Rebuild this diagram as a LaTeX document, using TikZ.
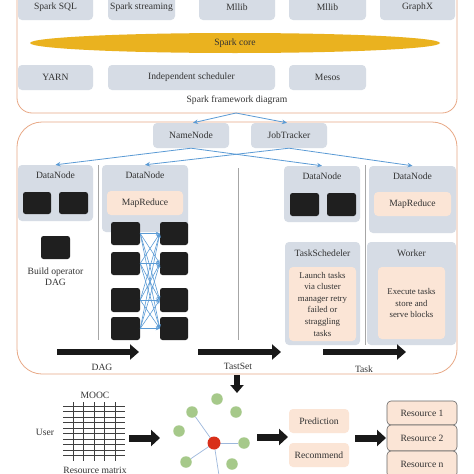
\documentclass[tikz,border=0pt]{standalone}
\usepackage{fontspec}
\setmainfont{Liberation Serif}
\usetikzlibrary{arrows.meta,shapes.geometric}
\definecolor{gb}{HTML}{D6DCE5}
\definecolor{pe}{HTML}{FBE5D6}
\definecolor{panel}{HTML}{E8A987}
\definecolor{core}{HTML}{EAB21F}
\definecolor{blu}{HTML}{5B9BD5}
\definecolor{txt}{HTML}{333333}
\definecolor{grn}{HTML}{A6C98A}
\definecolor{rd}{HTML}{D9301A}
\definecolor{edge}{HTML}{9DB8DC}
\tikzset{
  every node/.style={text=txt, font=\fontsize{9.6}{11}\selectfont},
  box/.style={inner sep=0pt, rounded corners=4pt, draw=none},
  graybox/.style={box, fill=gb},
  peachbox/.style={box, fill=pe},
  resbox/.style={box, fill=pe, draw=gray!80!black, line width=0.6pt},
  blk/.style={inner sep=0pt, rounded corners=2.5pt, fill=black!88},
  lbl/.style={inner sep=0pt},
  bluarr/.style={draw=blu, line width=0.8pt, -{Stealth[length=5pt,width=4.5pt]}},
  fanarr/.style={draw=blu, line width=0.6pt, -{Stealth[length=4pt,width=3.5pt]}},
  fat/.style={draw=black!90, line width=6.5pt, -{Triangle[length=9pt,width=15pt]}},
  divider/.style={draw=gray!70, line width=0.6pt},
  gnode/.style={circle, fill=grn, minimum size=11.5pt, inner sep=0pt},
  rnode/.style={circle, fill=rd, minimum size=13pt, inner sep=0pt},
  gedge/.style={draw=edge, line width=0.7pt},
  small/.style={font=\fontsize{8.8}{11.6}\selectfont, align=center}
}
\begin{document}
\begin{tikzpicture}[x=1pt,y=-1pt]
\useasboundingbox (0,0) rectangle (474,474);
\fill[white] (0,0) rectangle (474,474);

% ---- top panel
\draw[panel, line width=0.8pt, rounded corners=15pt] (17,-30) rectangle (457,113);
\node[graybox, minimum width=75pt, minimum height=26pt] (sql) at (55.5,7) {Spark SQL};
\node[graybox, minimum width=67pt, minimum height=26pt] (str) at (141.5,7) {Spark streaming};
\node[graybox, minimum width=76pt, minimum height=26pt] (ml1) at (237,7) {Mllib};
\node[graybox, minimum width=77pt, minimum height=26pt] (ml2) at (327.5,7) {Mllib};
\node[graybox, minimum width=75pt, minimum height=26pt] (gx) at (417.5,7) {GraphX};
\node[ellipse, fill=core, minimum width=410pt, minimum height=20pt, inner sep=0pt] (core) at (235,43) {Spark core};
\node[graybox, minimum width=75pt, minimum height=25pt] (yarn) at (55.5,77.5) {YARN};
\node[graybox, minimum width=167pt, minimum height=25pt] (ind) at (191.5,77.5) {Independent scheduler};
\node[graybox, minimum width=77pt, minimum height=25pt] (mesos) at (327.5,77.5) {Mesos};
\node[lbl] (cap) at (237,100) {Spark framework diagram};

% ---- second panel
\draw[panel, line width=0.8pt, rounded corners=25pt] (17,122) rectangle (457,374);
\node[graybox, minimum width=76pt, minimum height=25pt] (nn) at (191,135.5) {NameNode};
\node[graybox, minimum width=76pt, minimum height=25pt] (jt) at (289,135.5) {JobTracker};
\coordinate (sp) at (236,113);
\draw[bluarr] (sp) -- ([xshift=2pt]nn.north);
\draw[bluarr] (sp) -- ([xshift=-2pt]jt.north);

% dividers
\draw[divider] (98,165) -- (98,340);
\draw[divider] (238,168) -- (238,340);
\draw[divider] (365,165) -- (365,345);

% DataNodes
\node[graybox, minimum width=75pt, minimum height=56pt] (dn1) at (55.5,193) {};
\node[lbl] (dn1t) at (55.5,175) {DataNode};
\node[blk, minimum width=28pt, minimum height=22pt] (s1) at (37,203) {};
\node[blk, minimum width=29pt, minimum height=22pt] (s2) at (73.5,203) {};

\node[graybox, minimum width=86pt, minimum height=67pt] (dn2) at (145,198.5) {};
\node[lbl] (dn2t) at (145,175) {DataNode};
\node[peachbox, minimum width=76pt, minimum height=24pt] (mr1) at (145,203) {MapReduce};

\node[graybox, minimum width=76pt, minimum height=56pt] (dn3) at (322,194) {};
\node[lbl] (dn3t) at (322,176) {DataNode};
\node[blk, minimum width=29pt, minimum height=23pt] (s3) at (304.5,204.5) {};
\node[blk, minimum width=29pt, minimum height=23pt] (s4) at (341.5,204.5) {};

\node[graybox, minimum width=87pt, minimum height=67pt] (dn4) at (412.5,199.5) {};
\node[lbl] (dn4t) at (412.5,176) {DataNode};
\node[peachbox, minimum width=77pt, minimum height=24pt] (mr2) at (412.5,204) {MapReduce};

\draw[bluarr] (nn.south) -- (dn1.north);
\draw[bluarr] (nn.south) -- (dn3.north);
\draw[bluarr] (jt.south) -- (dn2.north);
\draw[bluarr] (jt.south) -- (dn4.north);

% MapReduce grid
\foreach \i/\y/\h in {1/233.5/23,2/263.5/23,3/300/24,4/328.5/23}{
  \node[blk, minimum width=29pt, minimum height=\h pt] (L\i) at (125.5,\y) {};
  \node[blk, minimum width=28pt, minimum height=\h pt] (R\i) at (174,\y) {};
}
\foreach \i in {1,2,3,4}{
  \foreach \j in {1,2,3,4}{
    \draw[fanarr] (L\i.east) -- (R\j.west);
  }
}

% Build operator DAG
\node[blk, minimum width=29pt, minimum height=23pt] (bd) at (55.5,247.5) {};
\node[lbl, align=center, font=\fontsize{9.6}{11}\selectfont] (bdt) at (55.5,276.5) {Build operator\\DAG};

% TaskSchedeler / Worker
\node[graybox, minimum width=75pt, minimum height=103pt] (ts) at (322.5,293.5) {};
\node[lbl] (tst) at (322.5,253) {TaskSchedeler};
\node[peachbox, minimum width=67pt, minimum height=74pt, small] (tsi) at (322.5,304) {Launch tasks\\via cluster\\manager retry\\failed or\\straggling\\tasks};
\node[graybox, minimum width=89pt, minimum height=103pt] (wk) at (411.5,293.5) {};
\node[lbl] (wkt) at (411.5,253) {Worker};
\node[peachbox, minimum width=67pt, minimum height=72pt, small] (wki) at (411.5,303) {Execute tasks\\store and\\serve blocks};

% flow arrows
\coordinate (a1) at (57,352); \coordinate (a2) at (139,352);
\coordinate (b1) at (198,352); \coordinate (b2) at (281,352);
\coordinate (c1) at (323,352); \coordinate (c2) at (406,352);
\draw[fat] (a1) -- (a2);
\draw[fat] (b1) -- (b2);
\draw[fat] (c1) -- (c2);
\node[lbl] (dagl) at (102,367) {DAG};
\node[lbl] (tsl) at (238,366) {TastSet};
\node[lbl] (tkl) at (364,369) {Task};

\coordinate (d1) at (237,375); \coordinate (d2) at (237,393);
\draw[draw=black!90, line width=5.5pt, -{Triangle[length=8pt,width=13pt]}] (d1) -- (d2);

% ---- bottom
\node[lbl] (mooc) at (95,395) {MOOC};
\foreach \x in {73,83.5,94,104.5,115}{ \draw[black!75, line width=0.7pt] (\x,402) -- (\x,461); }
\foreach \k in {0,...,9}{ \draw[black!75, line width=0.7pt] (63,406+5.5*\k) -- (125,406+5.5*\k); }
\node[lbl] (user) at (45,432) {User};
\node[lbl, anchor=south] (resm) at (95,473.5) {Resource matrix};

\coordinate (e1) at (129,438); \coordinate (e2) at (160,438);
\draw[draw=black!90, line width=7pt, -{Triangle[length=9pt,width=16pt]}] (e1) -- (e2);

\coordinate (gout) at (220,482);
\node[gnode] (g1) at (217,399) {};
\node[gnode] (g2) at (192,412) {};
\node[gnode] (g3) at (236,412) {};
\node[gnode] (g4) at (179,431) {};
\node[gnode] (g5) at (244,443) {};
\node[gnode] (g6) at (186,462) {};
\node[gnode] (g7) at (232,464) {};
\draw[gedge] (214,443) -- (g2);
\draw[gedge] (214,443) -- (g5);
\draw[gedge] (214,443) -- (g6);
\draw[gedge] (214,443) -- (gout);
\node[rnode] (r) at (214,443) {};

\coordinate (f1) at (257,437); \coordinate (f2) at (288,437);
\draw[draw=black!90, line width=7pt, -{Triangle[length=9pt,width=16pt]}] (f1) -- (f2);
\node[peachbox, minimum width=60pt, minimum height=24pt] (pred) at (319,421) {Prediction};
\node[peachbox, minimum width=60pt, minimum height=24pt] (rec) at (319,455) {Recommend};
\coordinate (h1) at (355,438); \coordinate (h2) at (386,438);
\draw[draw=black!90, line width=7pt, -{Triangle[length=9pt,width=16pt]}] (h1) -- (h2);
\node[resbox, minimum width=70pt, minimum height=24pt] (r1) at (422,413) {Resource 1};
\node[resbox, minimum width=70pt, minimum height=26pt] (r2) at (422,438) {Resource 2};
\node[resbox, minimum width=70pt, minimum height=26pt] (rn) at (422,464) {Resource n};
\end{tikzpicture}
\end{document}
